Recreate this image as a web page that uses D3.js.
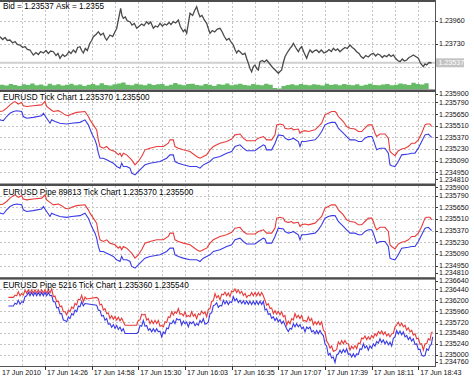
<!DOCTYPE html>
<html><head><meta charset="utf-8">
<script src="https://cdn.jsdelivr.net/npm/d3@7"></script>
<style>html,body{margin:0;padding:0;background:#fff;} svg{display:block;font-family:"Liberation Sans",Arial,sans-serif;}</style>
</head><body><svg id="c" width="474" height="382"></svg>
<script>
// ---------------- DATA ----------------
// [tick index, price]
const bidLine = [[0,1.23798],[8,1.23770],[15,1.23790],[22,1.23760],[30,1.23765],[38,1.23735],[45,1.23750],[52,1.23720],[60,1.23715],[68,1.23690],[75,1.23700],[82,1.23670],[90,1.23665],[95,1.23640],[100,1.23615],[108,1.23640],[115,1.23620],[122,1.23650],[130,1.23635],[138,1.23660],[145,1.23630],[152,1.23655],[160,1.23648],[168,1.23610],[174,1.23630],[180,1.23582],[188,1.23620],[194,1.23600],[200,1.23615],[207,1.23650],[213,1.23630],[220,1.23665],[227,1.23640],[233,1.23690],[240,1.23698],[245,1.23660],[250,1.23635],[256,1.23680],[262,1.23660],[270,1.23735],[275,1.23760],[280,1.23798],[288,1.23820],[295,1.23848],[302,1.23815],[310,1.23832],[315,1.23790],[320,1.23765],[325,1.23790],[330,1.23815],[338,1.23800],[345,1.23848],[350,1.23880],[355,1.23965],[362,1.24082],[366,1.24010],[370,1.23982],[376,1.23995],[382,1.23955],[390,1.23948],[396,1.23915],[403,1.23930],[410,1.23882],[418,1.23905],[425,1.23925],[432,1.23910],[440,1.23948],[446,1.23925],[452,1.23945],[460,1.23882],[466,1.23905],[473,1.23895],[480,1.23932],[487,1.23905],[494,1.23925],[500,1.23915],[507,1.23940],[513,1.23920],[520,1.23948],[527,1.23935],[535,1.23965],[541,1.23900],[550,1.23848],[555,1.23870],[560,1.23832],[565,1.23930],[570,1.24032],[578,1.24010],[584,1.24060],[590,1.24098],[595,1.24040],[600,1.23998],[606,1.24010],[613,1.23965],[620,1.23932],[625,1.23880],[630,1.23832],[637,1.23860],[644,1.23845],[652,1.23875],[660,1.23882],[666,1.23850],[673,1.23800],[680,1.23765],[687,1.23780],[694,1.23740],[700,1.23715],[705,1.23670],[710,1.23635],[715,1.23660],[720,1.23648],[728,1.23620],[735,1.23632],[740,1.23580],[745,1.23532],[750,1.23480],[755,1.23448],[760,1.23500],[765,1.23515],[770,1.23480],[775,1.23465],[780,1.23548],[787,1.23560],[793,1.23545],[800,1.23565],[806,1.23540],[813,1.23510],[820,1.23482],[827,1.23460],[835,1.23432],[840,1.23450],[845,1.23465],[850,1.23540],[855,1.23598],[862,1.23640],[870,1.23682],[875,1.23700],[880,1.23732],[887,1.23690],[895,1.23648],[900,1.23680],[905,1.23698],[912,1.23640],[920,1.23582],[925,1.23630],[930,1.23665],[937,1.23640],[944,1.23660],[950,1.23665],[957,1.23640],[964,1.23665],[972,1.23635],[980,1.23648],[987,1.23670],[994,1.23650],[1000,1.23682],[1007,1.23660],[1013,1.23675],[1020,1.23648],[1027,1.23670],[1035,1.23690],[1042,1.23680],[1050,1.23715],[1057,1.23690],[1063,1.23675],[1070,1.23648],[1077,1.23630],[1083,1.23600],[1090,1.23582],[1097,1.23610],[1105,1.23595],[1112,1.23620],[1120,1.23632],[1127,1.23605],[1133,1.23625],[1140,1.23615],[1147,1.23590],[1153,1.23610],[1160,1.23598],[1167,1.23620],[1173,1.23600],[1180,1.23615],[1187,1.23580],[1193,1.23560],[1200,1.23548],[1207,1.23575],[1213,1.23555],[1220,1.23565],[1227,1.23590],[1233,1.23600],[1240,1.23615],[1247,1.23600],[1255,1.23582],[1262,1.23530],[1270,1.23498],[1275,1.23525],[1280,1.23515],[1287,1.23540],[1295,1.23537]];
const tickVolume = [42,34,48,40,31,46,39,52,37,43,33,50,38,45,35,41,49,36,44,30,42,47,38,55,40,34,46,52,60,41,36,49,43,38,51,39,45,48,33,41,56,44,37,47,50,40,35,48,42,31,46,41,53,38,44,49,40,34,47,42,36,51,41,12,8,30,40,45,36,48,41,37,46,42,34,49,40,45,38,47,41,36,46,32,42,50,40,37,44,48,36,41,53,45,40,58,47,43,55,46];

const tickAsk = [[0,1.23568],[10,1.23569],[20,1.23572],[30,1.23576],[40,1.23579],[45,1.23580],[55,1.23577],[65,1.23579],[70,1.23575],[80,1.23574],[100,1.23575],[125,1.23576],[130,1.23578],[135,1.23580],[140,1.23574],[150,1.23571],[160,1.23568],[175,1.23569],[185,1.23567],[195,1.23564],[205,1.23563],[215,1.23565],[230,1.23567],[255,1.23568],[265,1.23562],[270,1.23558],[280,1.23552],[290,1.23546],[295,1.23534],[300,1.23526],[310,1.23524],[320,1.23526],[330,1.23522],[345,1.23520],[355,1.23516],[360,1.23518],[365,1.23514],[370,1.23518],[380,1.23516],[395,1.23510],[405,1.23504],[415,1.23508],[425,1.23514],[435,1.23522],[450,1.23524],[470,1.23526],[490,1.23526],[505,1.23530],[510,1.23534],[520,1.23534],[525,1.23526],[535,1.23524],[550,1.23522],[570,1.23520],[590,1.23514],[600,1.23512],[610,1.23514],[620,1.23516],[630,1.23522],[640,1.23526],[660,1.23530],[680,1.23532],[695,1.23535],[705,1.23540],[720,1.23541],[730,1.23536],[740,1.23533],[765,1.23533],[775,1.23536],[790,1.23538],[795,1.23536],[800,1.23534],[815,1.23534],[825,1.23540],[830,1.23552],[840,1.23553],[850,1.23552],[855,1.23548],[865,1.23547],[875,1.23548],[880,1.23546],[895,1.23547],[900,1.23542],[905,1.23544],[915,1.23545],[925,1.23544],[945,1.23546],[955,1.23550],[965,1.23554],[975,1.23564],[985,1.23566],[995,1.23568],[1005,1.23568],[1010,1.23566],[1015,1.23562],[1020,1.23560],[1030,1.23556],[1040,1.23550],[1050,1.23548],[1065,1.23547],[1075,1.23544],[1085,1.23544],[1095,1.23548],[1105,1.23552],[1115,1.23552],[1120,1.23548],[1125,1.23542],[1130,1.23538],[1140,1.23541],[1155,1.23541],[1165,1.23536],[1170,1.23520],[1175,1.23518],[1185,1.23515],[1195,1.23521],[1205,1.23523],[1215,1.23524],[1225,1.23526],[1235,1.23530],[1245,1.23530],[1255,1.23534],[1265,1.23542],[1275,1.23552],[1280,1.23553],[1290,1.23553],[1295,1.23550]];
const tickBid = [[0,1.23558],[10,1.23557],[20,1.23562],[30,1.23566],[40,1.23568],[50,1.23569],[65,1.23568],[70,1.23562],[80,1.23560],[100,1.23561],[125,1.23563],[130,1.23566],[140,1.23560],[150,1.23554],[155,1.23558],[165,1.23556],[180,1.23554],[200,1.23553],[215,1.23554],[240,1.23555],[255,1.23558],[265,1.23552],[275,1.23542],[285,1.23534],[290,1.23528],[295,1.23518],[300,1.23512],[310,1.23512],[320,1.23510],[330,1.23508],[340,1.23506],[350,1.23502],[360,1.23500],[365,1.23506],[370,1.23502],[380,1.23502],[390,1.23500],[395,1.23494],[405,1.23492],[415,1.23496],[425,1.23500],[435,1.23504],[450,1.23506],[480,1.23508],[500,1.23512],[510,1.23516],[520,1.23516],[525,1.23508],[535,1.23506],[550,1.23504],[570,1.23502],[590,1.23502],[600,1.23500],[610,1.23504],[620,1.23506],[630,1.23508],[640,1.23512],[660,1.23514],[680,1.23518],[695,1.23520],[705,1.23526],[720,1.23528],[730,1.23524],[740,1.23521],[765,1.23521],[775,1.23524],[790,1.23528],[795,1.23527],[800,1.23522],[815,1.23522],[825,1.23530],[835,1.23540],[850,1.23539],[855,1.23536],[865,1.23534],[875,1.23535],[880,1.23536],[895,1.23532],[900,1.23526],[905,1.23532],[915,1.23532],[945,1.23534],[955,1.23538],[965,1.23544],[975,1.23552],[985,1.23554],[995,1.23555],[1005,1.23555],[1010,1.23552],[1015,1.23548],[1020,1.23546],[1030,1.23542],[1040,1.23538],[1050,1.23534],[1065,1.23534],[1075,1.23532],[1085,1.23532],[1095,1.23536],[1105,1.23538],[1115,1.23538],[1120,1.23534],[1125,1.23528],[1130,1.23522],[1140,1.23524],[1155,1.23524],[1165,1.23518],[1170,1.23504],[1175,1.23503],[1185,1.23502],[1195,1.23508],[1205,1.23516],[1225,1.23517],[1235,1.23518],[1245,1.23518],[1255,1.23524],[1265,1.23532],[1275,1.23540],[1285,1.23541],[1295,1.23537]];

const pipeAsk = [[25,1.23626],[40,1.23626],[45,1.23631],[55,1.23635],[65,1.23631],[75,1.23638],[80,1.23639],[150,1.23639],[155,1.23641],[160,1.23631],[170,1.23620],[180,1.23609],[190,1.23598],[195,1.23591],[200,1.23591],[210,1.23598],[220,1.23605],[230,1.23613],[240,1.23624],[245,1.23627],[250,1.23620],[260,1.23626],[290,1.23626],[300,1.23613],[310,1.23602],[320,1.23594],[330,1.23583],[350,1.23580],[370,1.23576],[375,1.23565],[410,1.23565],[420,1.23580],[430,1.23591],[440,1.23580],[450,1.23572],[475,1.23572],[485,1.23561],[495,1.23569],[505,1.23580],[515,1.23591],[525,1.23591],[535,1.23598],[545,1.23587],[555,1.23591],[565,1.23583],[575,1.23591],[590,1.23583],[600,1.23591],[610,1.23594],[620,1.23587],[630,1.23605],[645,1.23631],[660,1.23624],[670,1.23635],[690,1.23631],[700,1.23642],[720,1.23638],[745,1.23627],[750,1.23633],[790,1.23633],[795,1.23616],[810,1.23605],[820,1.23594],[835,1.23592],[845,1.23591],[855,1.23583],[860,1.23569],[870,1.23572],[880,1.23580],[885,1.23587],[895,1.23583],[905,1.23583],[915,1.23572],[925,1.23580],[935,1.23576],[940,1.23569],[950,1.23570],[965,1.23569],[975,1.23547],[985,1.23521],[995,1.23516],[1005,1.23506],[1015,1.23525],[1025,1.23528],[1040,1.23528],[1050,1.23514],[1060,1.23517],[1070,1.23517],[1080,1.23528],[1090,1.23539],[1105,1.23536],[1115,1.23539],[1125,1.23543],[1140,1.23550],[1155,1.23547],[1165,1.23543],[1175,1.23543],[1185,1.23558],[1190,1.23569],[1200,1.23567],[1210,1.23565],[1220,1.23558],[1230,1.23554],[1240,1.23547],[1250,1.23539],[1265,1.23521],[1270,1.23514],[1280,1.23528],[1290,1.23536],[1298,1.23554]];
const pipeBid = [[25,1.23607],[40,1.23607],[45,1.23613],[55,1.23616],[65,1.23613],[75,1.23624],[80,1.23633],[150,1.23633],[155,1.23627],[165,1.23613],[180,1.23594],[190,1.23580],[195,1.23572],[200,1.23576],[210,1.23583],[220,1.23591],[230,1.23598],[240,1.23609],[245,1.23613],[255,1.23609],[290,1.23609],[300,1.23594],[310,1.23583],[320,1.23576],[330,1.23565],[350,1.23561],[370,1.23554],[375,1.23547],[410,1.23547],[420,1.23561],[430,1.23572],[440,1.23561],[450,1.23554],[475,1.23554],[485,1.23543],[495,1.23550],[505,1.23561],[515,1.23572],[525,1.23572],[535,1.23580],[545,1.23569],[555,1.23572],[565,1.23565],[575,1.23572],[590,1.23565],[600,1.23572],[610,1.23576],[620,1.23565],[630,1.23587],[645,1.23613],[660,1.23605],[670,1.23616],[690,1.23613],[700,1.23624],[720,1.23616],[750,1.23614],[790,1.23614],[795,1.23602],[810,1.23587],[820,1.23580],[835,1.23576],[845,1.23572],[855,1.23569],[860,1.23554],[870,1.23555],[880,1.23565],[895,1.23565],[905,1.23561],[915,1.23554],[925,1.23561],[935,1.23554],[940,1.23550],[965,1.23550],[975,1.23528],[985,1.23503],[995,1.23497],[1005,1.23487],[1015,1.23506],[1040,1.23510],[1050,1.23499],[1070,1.23499],[1080,1.23510],[1090,1.23521],[1105,1.23514],[1125,1.23523],[1140,1.23532],[1155,1.23528],[1175,1.23523],[1185,1.23543],[1190,1.23550],[1210,1.23547],[1220,1.23539],[1240,1.23532],[1250,1.23521],[1265,1.23503],[1270,1.23494],[1280,1.23510],[1290,1.23517],[1298,1.23536]];
const pipeFlatRuns = [[25,45],[255,290],[370,410]];

const timeTicks = [135,275,415,555,695,835,975,1115,1255];
const timeLabels = ["17 Jun 14:26","17 Jun 14:58","17 Jun 15:30","17 Jun 16:03","17 Jun 16:35","17 Jun 17:07","17 Jun 17:39","17 Jun 18:11","17 Jun 18:43"];
const firstLabel = "17 Jun 2010";

const p1Ticks = [1.2396,1.2373];
const p1Grid = [1.2396,1.2373,1.2350];
const p1Labels = ["1.23960","1.23730"];
const p2Ticks = [1.2359,1.23579,1.23565,1.23551,1.23537,1.23523,1.23509,1.23495,1.23481];
const p4Ticks = [1.23664,1.23644,1.2362,1.23596,1.23572,1.23548,1.23524,1.235,1.23476];
const lastBid = 1.23537;

const legends = ["Bid = 1.23537","Ask = 1.2355","EURUSD Tick Chart 1.235370 1.235500","EURUSD Pipe 89813 Tick Chart 1.235370 1.235500","EURUSD Pipe 5216 Tick Chart 1.235360 1.235540"];

// ---------------- LAYOUT ----------------
const svg = d3.select('#c');
const PR = 435;
const x = d3.scaleLinear().domain([0,1305]).range([0,PR]);
const RED = "#e83a3a", BLUE = "#3a3ae6", GRID = "#c4c4c4", SEP = "#4d4d4d";
const FY = '7.1px', FX = '7.1px', FL = '8.2px';

const panels = [
  {top:2, bottom:89.5, y:d3.scaleLinear().domain([1.2373,1.2396]).range([43.5,20.5]), tp:2.5, bp:4},
  {top:92, bottom:183.5, y:d3.scaleLinear().domain([1.23481,1.2359]).range([184,93.2]), tp:1.6, bp:4.3},
  {top:186, bottom:277.2, y:d3.scaleLinear().domain([1.23481,1.2359]).range([277.3,186.5]), tp:1.4, bp:4.3},
  {top:279.6, bottom:366, y:d3.scaleLinear().domain([1.23476,1.23664]).range([365.9,280]), tp:1.4, bp:4}
];

svg.append('rect').attr('width',474).attr('height',382).attr('fill','#fff');
const defs = svg.append('defs');
panels.forEach((p,i)=>{
  defs.append('clipPath').attr('id','cl'+i).append('rect')
    .attr('x',0).attr('y',p.top).attr('width',PR).attr('height',p.bottom-p.top);
});

// vertical grid
const vgrid = d3.range(65,1305,70);
panels.forEach((p,i)=>{
  const g = svg.append('g').attr('clip-path',`url(#cl${i})`);
  g.selectAll('line.v').data(vgrid).join('line')
    .attr('x1',d=>Math.round(x(d))+0.5).attr('x2',d=>Math.round(x(d))+0.5)
    .attr('y1',p.top).attr('y2',p.bottom)
    .attr('stroke',GRID).attr('stroke-dasharray','2,2').attr('stroke-width',1);
  p.g = g;
});

function hGrid(p, ticks){
  const inner = ticks.filter(t=>{const yy=p.y(t); return yy>p.top+3 && yy<p.bottom-3;});
  p.g.selectAll('line.h').data(inner).join('line')
    .attr('x1',0).attr('x2',PR)
    .attr('y1',d=>Math.round(p.y(d))+0.5).attr('y2',d=>Math.round(p.y(d))+0.5)
    .attr('stroke',GRID).attr('stroke-dasharray','2,2');
}
function yLabels(p, ticks, labels){
  const lab = svg.append('g');
  ticks.forEach((t,i)=>{
    const yy = Math.min(Math.max(p.y(t), p.top+p.tp), p.bottom-p.bp);
    lab.append('line').attr('x1',PR).attr('x2',PR+3).attr('y1',Math.round(yy)+0.5).attr('y2',Math.round(yy)+0.5).attr('stroke','#333');
    lab.append('text').attr('x',PR+4).attr('y',yy).attr('dy','0.35em')
      .attr('font-size',FY).attr('fill','#111').text(labels?labels[i]:t.toFixed(6));
  });
}

// panel 1
const P1 = panels[0];
hGrid(P1, p1Grid);
yLabels(P1, p1Ticks, p1Labels);
P1.g.append('line').attr('x1',0).attr('x2',PR).attr('y1',P1.y(lastBid)).attr('y2',P1.y(lastBid))
  .attr('stroke','#cfcfcf').attr('stroke-width',2);
const vx = d3.scaleLinear().domain([0,tickVolume.length]).range([0,433]);
const vy = d3.scaleLinear().domain([0,100]).range([89.5,78]);
P1.g.append('path').datum(tickVolume)
  .attr('d', d3.area().x((d,i)=>vx(i)).y0(89.5).y1(d=>vy(d)).curve(d3.curveStepAfter))
  .attr('fill','#66bb66');
P1.g.append('path').datum(bidLine)
  .attr('d', d3.line().x(d=>x(d[0])).y(d=>P1.y(d[1])))
  .attr('fill','none').attr('stroke','#4a4a4a').attr('stroke-width',1.3);

// panels 2 & 3
[1,2].forEach(i=>{
  const p = panels[i];
  hGrid(p, p2Ticks);
  yLabels(p, p2Ticks, null);
  const ln = d3.line().x(d=>x(d[0])).y(d=>p.y(d[1]));
  p.g.append('path').datum(tickAsk).attr('d',ln).attr('fill','none').attr('stroke',RED).attr('stroke-width',1.1);
  p.g.append('path').datum(tickBid).attr('d',ln).attr('fill','none').attr('stroke',BLUE).attr('stroke-width',1.1);
});

// panel 4 (pipe chart, choppy texture)
const P4 = panels[3];
hGrid(P4, p4Ticks);
yLabels(P4, p4Ticks, null);
function zigPath(pts, ys){
  const flat = t => pipeFlatRuns.some(r=>t>=r[0] && t<r[1]);
  let d = '', sign = 1;
  pts.forEach((pt,i)=>{
    const px = x(pt[0]), py = ys(pt[1]);
    if(i===0){ d += `M${px},${py}`; return; }
    const q = pts[i-1], qx = x(q[0]), qy = ys(q[1]);
    if(flat(q[0])){ d += `L${px},${py}`; return; }
    const n = Math.max(1, Math.round((px-qx)/1.65));
    for(let k=1;k<=n;k++){
      const t=k/n, xx=qx+(px-qx)*t, yy=qy+(py-qy)*t;
      d += `L${xx.toFixed(2)},${(yy + sign*1.6).toFixed(2)}`;
      sign = -sign;
    }
  });
  return d;
}
P4.g.append('path').attr('d',zigPath(pipeAsk,P4.y)).attr('fill','none').attr('stroke',RED).attr('stroke-width',1.1);
P4.g.append('path').attr('d',zigPath(pipeBid,P4.y)).attr('fill','none').attr('stroke',BLUE).attr('stroke-width',1.1);

// current price box
svg.append('rect').attr('x',436).attr('y',P1.y(lastBid)-4.5).attr('width',28).attr('height',9).attr('fill','#c3c3c3');
svg.append('text').attr('x',438.5).attr('y',P1.y(lastBid)).attr('dy','0.35em').attr('font-size',FY).attr('fill','#fff').text(lastBid.toFixed(5));

// legends
const lg = [[3,6.5],[56,6.5],[3,96.7],[3,192.3],[3,285]];
legends.forEach((t,i)=>{
  svg.append('text').attr('x',lg[i][0]).attr('y',lg[i][1]).attr('dy','0.35em').attr('font-size',FL).attr('fill','#000').text(t);
});

// separators and borders
svg.append('rect').attr('x',0).attr('y',0).attr('width',PR).attr('height',2).attr('fill',SEP);
[[89.5,2.5],[183.5,2.5],[277.2,2.4]].forEach(s=>{
  svg.append('rect').attr('x',0).attr('y',s[0]).attr('width',PR).attr('height',s[1]).attr('fill',SEP);
});
svg.append('line').attr('x1',PR+0.5).attr('x2',PR+0.5).attr('y1',0).attr('y2',367).attr('stroke','#555').attr('stroke-width',1);
svg.append('line').attr('x1',0).attr('x2',PR+1).attr('y1',366.5).attr('y2',366.5).attr('stroke','#555');

// time axis
const ta = svg.append('g');
ta.selectAll('line').data(timeTicks).join('line')
  .attr('x1',d=>Math.round(x(d))+0.5).attr('x2',d=>Math.round(x(d))+0.5).attr('y1',366).attr('y2',370).attr('stroke','#333');
ta.selectAll('text').data(timeTicks).join('text')
  .attr('x',d=>x(d)+2).attr('y',373).attr('dy','0.35em').attr('font-size',FX).attr('fill','#111')
  .text((d,i)=>timeLabels[i]);
ta.append('text').attr('x',2).attr('y',373).attr('dy','0.35em').attr('font-size',FX).attr('fill','#111').text(firstLabel);
</script></body></html>
